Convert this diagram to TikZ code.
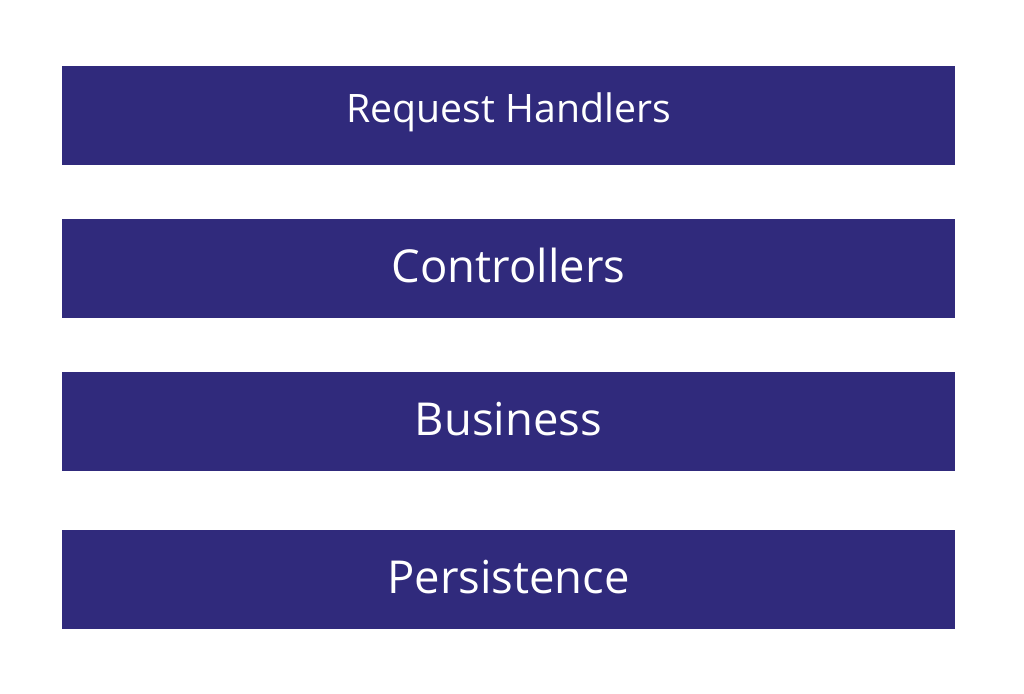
\documentclass[tikz,border=0pt]{standalone}
\usepackage{fontspec}
\setmainfont{Open Sans}
\definecolor{layerblue}{RGB}{48,42,124}
\begin{document}
\begin{tikzpicture}[x=1pt,y=-1pt,
  layer/.style={fill=layerblue,draw=none,minimum width=893pt,minimum height=99pt,inner sep=0pt},
  lbl/.style={text=white,anchor=base,inner sep=0pt}]
\useasboundingbox (0,0) rectangle (1024,693);
\node[layer] (l1) at (508.5,115.5) {};
\node[layer] (l2) at (508.5,268.5) {};
\node[layer] (l3) at (508.5,421.5) {};
\node[layer] (l4) at (508.5,579.5) {};
\node[lbl,font=\fontsize{39.2}{42}\selectfont] (t1) at ([yshift=-6.5pt]l1.center) {Request Handlers};
\node[lbl,font=\fontsize{45.4}{48}\selectfont] (t2) at ([yshift=-14pt]l2.center) {Controllers};
\node[lbl,font=\fontsize{45.4}{48}\selectfont] (t3) at ([yshift=-14pt]l3.center) {Business};
\node[lbl,font=\fontsize{45.4}{48}\selectfont] (t4) at ([yshift=-14pt]l4.center) {Persistence};
\end{tikzpicture}
\end{document}
